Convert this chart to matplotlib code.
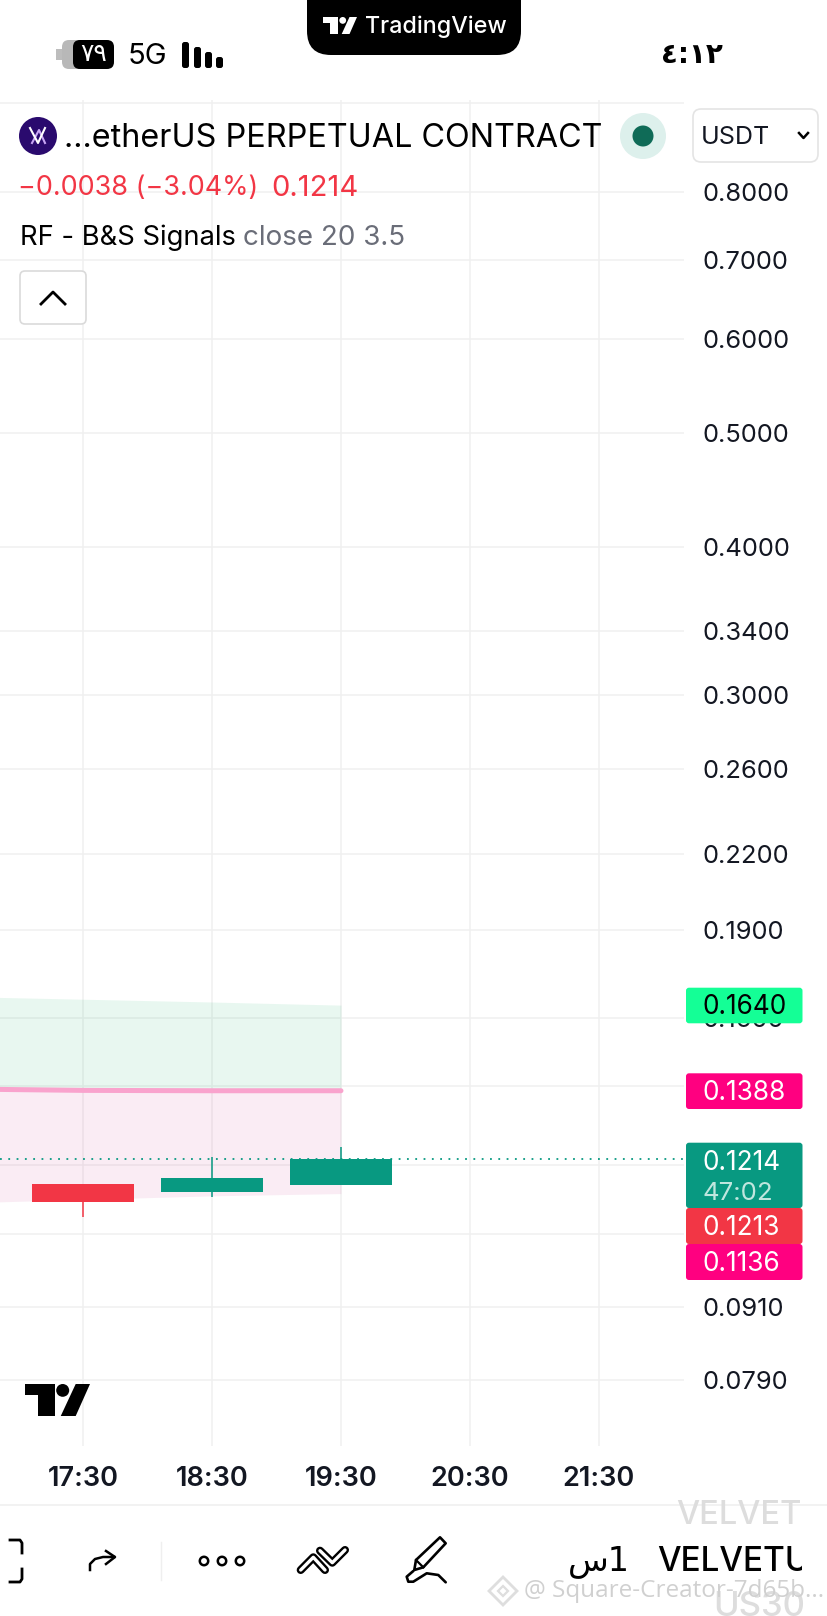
import matplotlib
matplotlib.use('Agg')
import matplotlib.pyplot as plt
from matplotlib.patches import Circle, Ellipse, FancyBboxPatch, Polygon, Rectangle
from matplotlib.ticker import NullLocator

plt.rcParams['font.family'] = ['Inter', 'DejaVu Sans']

# price axis
price_ticks = [0.95, 0.8, 0.7, 0.6, 0.5, 0.4, 0.34, 0.3, 0.26, 0.22, 0.19, 0.16, 0.14, 0.12, 0.105, 0.091, 0.079]
price_labels = ['', '0.8000', '0.7000', '0.6000', '0.5000', '0.4000', '0.3400', '0.3000', '0.2600', '0.2200',
                '0.1900', '0.1600', '', '', '', '0.0910', '0.0790']

# time axis, hours
time_ticks = [17.5, 18.5, 19.5, 20.5, 21.5]
time_labels = ['17:30', '18:30', '19:30', '20:30', '21:30']

# candles
candle_t = [17.5, 18.5, 19.5]
candle_open = [0.1158, 0.1139, 0.1155]
candle_close = [0.1118, 0.1171, 0.1214]
candle_high = [0.1158, 0.1221, 0.1243]
candle_low = [0.1086, 0.1128, 0.1155]
last_price = 0.1214

# range filter bands
band_t = [16.5, 17.5, 18.5, 19.5]
band_upper = [0.1668, 0.1659, 0.1650, 0.1640]
band_mid = [0.1393, 0.1389, 0.1388, 0.1388]
band_lower = [0.1115, 0.1123, 0.1131, 0.1136]

GREEN = '#089981'
RED = '#F23645'
PINK = '#FF0080'
INK = '#131722'
GRID = '#F0F0F0'

fig = plt.figure(figsize=(8.28, 16.16), dpi=100)
ax = fig.add_axes([0, (1616 - 1446) / 1616, 684 / 828, 1346 / 1616])
ax.set_yscale('log')
ax.set_xlim(16.857, 22.159)
ax.set_ylim(0.06947, 0.9565)
ax.yaxis.tick_right()
ax.set_yticks(price_ticks)
ax.set_yticklabels(price_labels)
ax.yaxis.set_minor_locator(NullLocator())
ax.set_xticks(time_ticks)
ax.set_xticklabels(time_labels, fontweight='semibold')
ax.tick_params(axis='y', length=0, pad=13, labelsize=18.4, labelcolor=INK)
ax.tick_params(axis='x', length=0, pad=14.5, labelsize=19.5, labelcolor=INK)
ax.grid(True, color=GRID, linewidth=1.1)
ax.set_axisbelow(True)
for s in ax.spines.values():
    s.set_visible(False)

ax.fill_between(band_t, band_mid, band_upper, color='#00B060', alpha=0.09, linewidth=0)
ax.fill_between(band_t, band_lower, band_mid, color='#C0107A', alpha=0.08, linewidth=0)
ax.plot(band_t, band_mid, color='#F9A3CD', linewidth=3.6, solid_capstyle='round')
ax.axhline(last_price, color=GREEN, linewidth=1.3, linestyle=(0, (1, 3.6)), zorder=4)

colors = [GREEN if c >= o else RED for o, c in zip(candle_open, candle_close)]
ax.vlines(candle_t, candle_low, candle_high, colors=colors, linewidth=1.1, zorder=3)
bottoms = [min(o, c) for o, c in zip(candle_open, candle_close)]
heights = [abs(c - o) for o, c in zip(candle_open, candle_close)]
ax.bar(candle_t, heights, bottom=bottoms, width=0.795, color=colors, zorder=3, clip_on=False)

# everything around the chart, in screen pixels
ov = fig.add_axes([0, 0, 1, 1], facecolor='none')
ov.set_xlim(0, 828)
ov.set_ylim(1616, 0)
ov.axis('off')


def box(x0, y0, x1, y1, r, fc, ec='none', lw=0, z=5):
    ov.add_patch(FancyBboxPatch((x0 + r, y0 + r), x1 - x0 - 2 * r, y1 - y0 - 2 * r,
                                boxstyle='round,pad=%f,rounding_size=%f' % (r, r),
                                fc=fc, ec=ec, lw=lw, zorder=z))


def label(x, y, s, size, color=INK, ha='left', weight='normal', z=7, **kw):
    return ov.text(x, y, s, fontsize=size, color=color, ha=ha, va='center', fontweight=weight, zorder=z, **kw)


def tv_logo(x, y, w, h, color):
    def pts(p):
        return [(x + a * w, y + b * h) for a, b in p]
    ov.add_patch(Polygon(pts([(0, 0), (.455, 0), (.455, 1), (.2, 1), (.2, .33), (0, .33)]), fc=color, ec='none', zorder=8))
    ov.add_patch(Polygon(pts([(.78, 0), (1, 0), (.78, 1), (.55, 1)]), fc=color, ec='none', zorder=8))
    ov.add_patch(Ellipse((x + .58 * w, y + .2 * h), .2 * w, .4 * h, fc=color, ec='none', zorder=8))


# top tab and status bar
ov.add_patch(Rectangle((307, 0), 214, 20, fc='black', ec='none', zorder=5))
box(307, -20, 521, 55, 24, 'black')
tv_logo(323, 17, 34, 17, 'white')
label(365, 27, 'TradingView', 16.8, 'white', weight='medium')

ov.add_patch(Rectangle((56, 49), 6, 11, fc='#BDBDBD', ec='none', zorder=5))
box(62, 40, 90, 69, 7, '#B8B8B8')
box(73, 40, 114, 69, 7, 'black')
label(94, 54, '٧٩', 18, 'white', ha='center', family='DejaVu Sans')
label(128, 57, '5G', 21, 'black')
for x0, top in zip([182, 194, 205, 216], [42, 47, 52, 57]):
    box(x0, top, x0 + 7, 68, 2.5, 'black')
label(692, 55, '٤:١٢', 20, 'black', ha='center', family='DejaVu Sans', weight='bold')

# legend header
ov.add_patch(Circle((38, 136), 19, fc='#2A0A6E', ec='none', zorder=6))
ov.plot([32, 39, 45], [143, 130, 143], color='#C9A6F5', lw=1.5, zorder=7)
ov.plot([30, 38, 45], [128, 143, 128], color='white', lw=1.5, zorder=7)
label(64, 138.5, '...etherUS PERPETUAL CONTRACT', 23.3, 'black')
ov.add_patch(Circle((643, 136), 23, fc='#DDF0EC', ec='none', zorder=6))
ov.add_patch(Circle((643, 136), 10.5, fc='#0F6B57', ec='none', zorder=7))
box(693, 109, 818, 162, 8, 'white', ec='#E4E4E4', lw=1.2)
label(701, 137, 'USDT', 18)
ov.plot([799, 803.5, 808], [133, 138, 133], color='black', lw=1.8, zorder=7)
label(18, 188, '−0.0038 (−3.04%)', 19.4, RED)
label(271, 188, '0.1214', 21, RED)
label(20, 238, 'RF - B&S Signals', 19.7, 'black')
label(243, 238, 'close 20 3.5', 20, '#6A6D78')
box(20, 271, 86, 324, 5, 'white', ec='#DADADA', lw=1.2)
ov.plot([41, 53, 65], [304, 292, 304], color='black', lw=2, zorder=7)

# price tags
tags = [(987.7, 1023.3, '#14FF96', 'black', '0.1640'),
        (1073.3, 1109, PINK, 'white', '0.1388'),
        (1142.7, 1208, GREEN, 'white', '0.1214'),
        (1208, 1244, RED, 'white', '0.1213'),
        (1244, 1280, PINK, 'white', '0.1136')]
for y0, y1, fc, tc, s in tags:
    box(686, y0, 802.5, y1, 3, fc)
    yc = (y0 + y1) / 2 if s != '0.1214' else 1161
    label(703, yc + 2, s, 18.9, tc)
label(703, 1193, '47:02', 18.6, '#BFE6DE')

tv_logo(25, 1384, 65, 32, 'black')

# toolbar
ov.plot([0, 828], [1505, 1505], color='#EFEFEF', lw=1.1, zorder=2)
ov.plot([10, 20, 22, 22], [1540, 1540, 1543, 1553], color='black', lw=2, zorder=7)
ov.plot([10, 20, 22, 22], [1582, 1582, 1579, 1569], color='black', lw=2, zorder=7)
ov.plot([90, 90, 95, 103, 114], [1570, 1564, 1559, 1557, 1557], color='black', lw=1.8, zorder=7)
ov.plot([106, 115, 106], [1551, 1557, 1564], color='black', lw=1.8, zorder=7)
ov.plot([161, 161], [1542, 1580], color='#EFEFEF', lw=1, zorder=7)
for x0 in [204, 222, 240]:
    ov.add_patch(Circle((x0, 1561), 4.2, fc='white', ec='black', lw=1.8, zorder=7))
for xs, ys in [([300.7, 313.3, 325], [1570, 1557.3, 1570]), ([320, 332.3, 345], [1550.7, 1562.7, 1550])]:
    ov.plot(xs, ys, color='black', lw=5.8, solid_capstyle='round', solid_joinstyle='round', zorder=7)
    ov.plot(xs, ys, color='white', lw=2.4, solid_capstyle='round', solid_joinstyle='round', zorder=7)
ov.add_patch(Polygon([(414.3, 1570), (416, 1560), (440, 1537.3), (445.7, 1543.3), (423.3, 1567.3)],
                     closed=True, fc='white', ec='black', lw=1.9, joinstyle='round', zorder=7))
ov.plot([416, 423.3], [1560, 1567.3], color='black', lw=1.6, zorder=8)
ov.plot([413.3, 406.7, 408.3, 413.3, 426.7, 438.3, 445.7], [1571, 1576.7, 1581.7, 1581.7, 1573.3, 1575, 1582.3],
        color='black', lw=1.9, solid_capstyle='round', zorder=7)

label(676, 1516, 'VELVET', 23.5, '#DDDDDD', weight='medium', z=3)
label(568, 1562, 'س1', 24, 'black', family='DejaVu Sans')
t = label(657, 1562, 'VELVETU', 24, 'black', weight='medium')
t.set_clip_path(Rectangle((657, 1530), 145, 60, transform=ov.transData))
t.set_clip_on(True)
ov.add_patch(Polygon([(503, 1577), (517, 1591), (503, 1605), (489, 1591)], fc='none', ec='#DEDEDE', lw=2, zorder=8))
ov.add_patch(Polygon([(503, 1586), (508, 1591), (503, 1596), (498, 1591)], fc='none', ec='#DEDEDE', lw=1.6, zorder=8))
label(524, 1591, '@ Square-Creator-7d65b...', 17.5, '#D0D0D0', z=8, family='Open Sans')
label(713, 1607, 'US30', 25, '#DDDDDD', weight='medium', z=3)

fig.savefig('out.png', dpi=100)
